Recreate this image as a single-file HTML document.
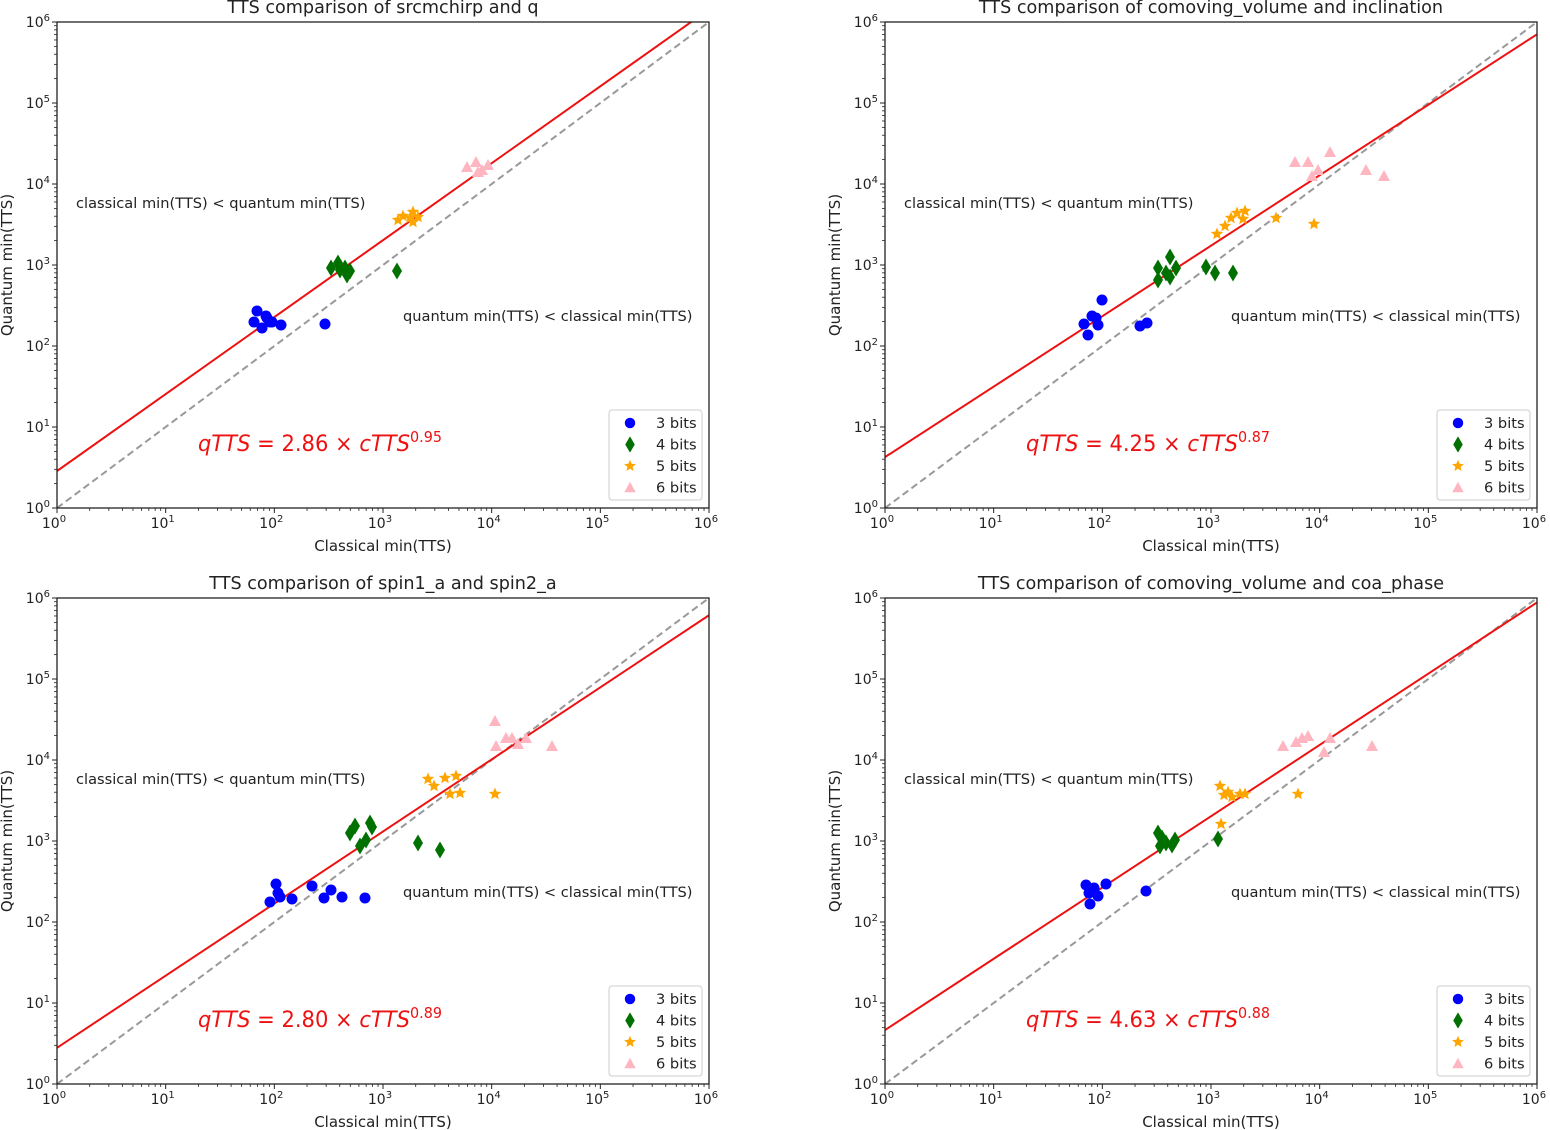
<!DOCTYPE html><html><head><meta charset="utf-8"><style>body{margin:0;background:#fff}svg{display:block}text{font-family:"DejaVu Sans","Liberation Sans",sans-serif;fill:#222}</style></head><body>
<svg id="s" width="1550" height="1130" xmlns="http://www.w3.org/2000/svg"></svg>
<script>
const S=document.getElementById('s');let h='';
const P=[
{ox:0,oy:0,t:"TTS comparison of srcmchirp and q",a:"2.86",b:0.95,
 B:[[254,322],[257,311],[266,316],[262,328],[270,322],[281,325],[325,324],[272,322],[267,318]],
 G:[[331,268],[338,263],[345,268],[350,271],[347,275],[397,271],[340,270]],
 O:[[398,220],[410,218],[413,212],[418,217],[413,222],[403,216]],
 K:[[467,167],[476,162],[482,170],[488,165],[478,172]]},
{ox:828,oy:0,t:"TTS comparison of comoving_volume and inclination",a:"4.25",b:0.87,
 B:[[1084,324],[1088,335],[1092,316],[1096,318],[1098,325],[1102,300],[1140,326],[1147,323]],
 G:[[1158,268],[1158,280],[1166,273],[1170,257],[1170,277],[1176,268],[1206,267],[1215,273],[1233,273]],
 O:[[1217,234],[1225,226],[1231,218],[1237,213],[1245,211],[1243,219],[1276,218],[1314,224]],
 K:[[1295,162],[1308,162],[1312,176],[1318,170],[1330,152],[1366,170],[1384,176]]},
{ox:0,oy:576,t:"TTS comparison of spin1_a and spin2_a",a:"2.80",b:0.89,
 B:[[270,902],[276,884],[278,893],[280,897],[292,899],[312,886],[324,898],[331,890],[342,897],[365,898]],
 G:[[350,833],[355,826],[360,846],[366,840],[370,823],[372,827],[418,843],[440,850]],
 O:[[428,779],[434,786],[445,778],[456,776],[450,794],[460,793],[495,794]],
 K:[[495,721],[496,746],[506,738],[512,738],[518,744],[526,738],[552,746]]},
{ox:828,oy:576,t:"TTS comparison of comoving_volume and coa_phase",a:"4.63",b:0.88,
 B:[[1086,885],[1089,893],[1090,904],[1094,888],[1098,896],[1106,884],[1146,891]],
 G:[[1158,833],[1160,846],[1162,838],[1166,843],[1172,845],[1175,840],[1218,839]],
 O:[[1220,786],[1224,795],[1228,792],[1232,797],[1240,794],[1245,794],[1221,824],[1298,794]],
 K:[[1283,746],[1296,742],[1302,738],[1308,736],[1324,752],[1330,738],[1372,746]]}];
const dx=652/6,dy=486/6;
function star(x,y,r,c){let p=[];for(let i=0;i<10;i++){const a=-Math.PI/2+i*Math.PI/5,rr=i%2?r*0.45:r;p.push((x+rr*Math.cos(a)).toFixed(1)+','+(y+rr*Math.sin(a)).toFixed(1));}return `<polygon points="${p.join(' ')}" fill="${c}"/>`;}
function mk(k,x,y,s){s=s||1;
 if(k=='B')return `<circle cx="${x}" cy="${y}" r="${5.5*s}" fill="#0000ff"/>`;
 if(k=='G')return `<polygon points="${x},${y-8.5*s} ${x+5*s},${y} ${x},${y+8.5*s} ${x-5*s},${y}" fill="#007000"/>`;
 if(k=='O')return star(x,y,6.5*s,'#ffa500');
 return `<polygon points="${x},${y-6*s} ${x+6*s},${y+5*s} ${x-6*s},${y+5*s}" fill="#ffb6c1"/>`;}
for(const p of P){const L=57+p.ox,T=22+p.oy,R=L+652,Bt=T+486;
 h+=`<defs><clipPath id="c${p.ox}_${p.oy}"><rect x="${L}" y="${T}" width="652" height="486"/></clipPath></defs>`;
 h+=`<g clip-path="url(#c${p.ox}_${p.oy})">`;
 h+=`<line x1="${L}" y1="${Bt}" x2="${R}" y2="${T}" stroke="#999" stroke-width="2" stroke-dasharray="7,4"/>`;
 const y0=Math.log10(+p.a);h+=`<line x1="${L}" y1="${Bt-y0*dy}" x2="${R}" y2="${Bt-(y0+6*p.b)*dy}" stroke="#ee1111" stroke-width="2"/>`;
 for(const k of['B','G','O','K'])for(const q of p[k])h+=mk(k,q[0],q[1]);
 h+=`</g>`;
 h+=`<rect x="${L}" y="${T}" width="652" height="486" fill="none" stroke="#222" stroke-width="1.3"/>`;
 for(let d=0;d<=6;d++){const x=L+d*dx,y=Bt-d*dy;
  h+=`<line x1="${x}" y1="${Bt}" x2="${x}" y2="${Bt+5}" stroke="#222"/><line x1="${L}" y1="${y}" x2="${L-5}" y2="${y}" stroke="#222"/>`;
  h+=`<text x="${x-3}" y="${Bt+20}" font-size="14" text-anchor="middle">10<tspan dy="-6" font-size="10">${d}</tspan></text>`;
  h+=`<text x="${L-7}" y="${y+5}" font-size="14" text-anchor="end">10<tspan dy="-6" font-size="10">${d}</tspan></text>`;
  if(d<6)for(let m=2;m<10;m++){const o=Math.log10(m);h+=`<line x1="${x+o*dx}" y1="${Bt}" x2="${x+o*dx}" y2="${Bt+3}" stroke="#222" stroke-width=".8"/><line x1="${L}" y1="${y-o*dy}" x2="${L-3}" y2="${y-o*dy}" stroke="#222" stroke-width=".8"/>`;}}
 h+=`<text x="${L+326}" y="${T-9}" font-size="17.6" text-anchor="middle">${p.t}</text>`;
 h+=`<text x="${L+326}" y="${Bt+43}" font-size="15" text-anchor="middle">Classical min(TTS)</text>`;
 h+=`<text transform="translate(${p.ox+12},${T+243}) rotate(-90)" font-size="15" text-anchor="middle">Quantum min(TTS)</text>`;
 h+=`<text x="${L+19}" y="${T+186}" font-size="14.6">classical min(TTS) &lt; quantum min(TTS)</text>`;
 h+=`<text x="${L+346}" y="${T+299}" font-size="14.6">quantum min(TTS) &lt; classical min(TTS)</text>`;
 h+=`<text x="${L+141}" y="${T+429}" font-size="22" style="fill:#ee1111" textLength="244" lengthAdjust="spacingAndGlyphs"><tspan font-style="italic">qTTS</tspan> = ${p.a} × <tspan font-style="italic">cTTS</tspan><tspan dy="-9" font-size="15">${p.b.toFixed(2)}</tspan></text>`;
 h+=`<rect x="${L+552}" y="${T+388}" width="93" height="90" rx="3" fill="#fff" stroke="#ccc"/>`;
 ['B','G','O','K'].forEach((k,i)=>{const yy=T+401+i*21.5;h+=mk(k,L+573,yy,0.95);h+=`<text x="${L+599}" y="${yy+5}" font-size="14.6">${i+3} bits</text>`;});
}
S.innerHTML=h;
</script></body></html>
